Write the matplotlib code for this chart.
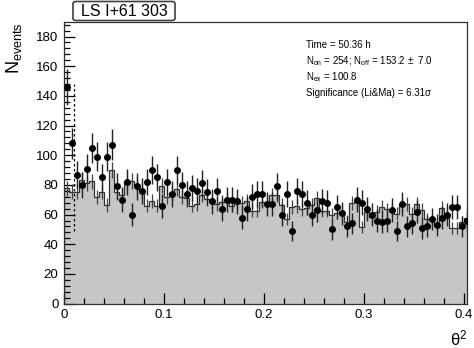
import numpy as np
import matplotlib
matplotlib.use('Agg')
import matplotlib.pyplot as plt
from matplotlib.patches import FancyBboxPatch

plt.rcParams['font.family'] = ['Liberation Sans', 'DejaVu Sans']
plt.rcParams['mathtext.fontset'] = 'custom'
plt.rcParams['mathtext.rm'] = 'Liberation Sans'
plt.rcParams['mathtext.it'] = 'Liberation Sans:italic'

# theta^2 histogram, bin width 0.005
bin_width = 0.005
n_on = [146, 108, 87, 80, 91, 105, 99, 85, 99, 107,
        79, 70, 82, 60, 79, 76, 82, 90, 85, 66,
        82, 74, 90, 80, 74, 78, 76, 81, 75, 69,
        76, 64, 70, 70, 69, 58, 64, 72, 74, 74,
        67, 67, 79, 60, 74, 49, 76, 74, 68, 60,
        63, 69, 68, 50, 65, 61, 52, 54, 70, 68,
        64, 60, 56, 55, 56, 63, 49, 67, 52, 54,
        62, 51, 52, 57, 53, 58, 60, 65, 65, 52,
        56]
n_off = [77.7, 75.5, 75.5, 83.4, 81.0, 82.3, 71.7, 75.5, 66.5, 90.1,
         75.5, 73.3, 82.7, 82.7, 80.0, 76.2, 66.0, 69.0, 66.0, 79.4,
         71.7, 74.4, 77.3, 72.1, 71.0, 66.0, 67.2, 73.3, 70.4, 69.2,
         67.0, 68.4, 70.5, 66.0, 68.1, 68.1, 69.2, 62.7, 62.7, 68.8,
         68.8, 73.3, 73.3, 66.5, 57.1, 65.0, 65.9, 63.6, 64.3, 66.5,
         71.0, 62.7, 62.7, 59.8, 61.4, 62.7, 55.3, 67.7, 68.8, 51.5,
         62.0, 58.6, 62.0, 65.0, 63.6, 63.6, 60.5, 67.2, 67.2, 60.5,
         67.2, 63.2, 56.9, 56.4, 53.7, 64.7, 60.5, 51.2, 51.2, 55.1,
         57.6]
off_alpha = 0.32  # off normalisation
theta2_cut = 0.01

edges = np.arange(len(n_on) + 1) * bin_width
centers = edges[:-1] + bin_width / 2
on = np.array(n_on)
off = np.array(n_off)

fig = plt.figure(figsize=(4.74, 3.48), dpi=100)
ax = fig.add_axes([64/474, 1 - 303.6/348, 403/474, 281.9/348])

ax.stairs(off, edges, fill=True, color='#c6c6c6', zorder=1)
ax.stairs(off, edges, color='#303030', lw=0.9, zorder=2)
ax.errorbar(centers, off, yerr=np.sqrt(off * off_alpha), fmt='none',
            ecolor='#404040', elinewidth=0.9, zorder=2)
ax.errorbar(centers, on, yerr=np.sqrt(on), fmt='o', color='black',
            ms=4, elinewidth=1.0, ecolor='#222222', capsize=0, zorder=3)
ax.plot([theta2_cut, theta2_cut], [49, 148], ls=(0, (2, 2)), color='black',
        lw=0.9, zorder=4)

ax.set_xlim(0, 0.403)
ax.set_ylim(0, 190)
ax.set_xticks(np.arange(0, 0.41, 0.1))
ax.set_xticklabels(['0', '0.1', '0.2', '0.3', '0.4'])
ax.set_xticks(np.arange(0, 0.403, 0.02), minor=True)
ax.set_yticks(np.arange(0, 181, 20))
ax.set_yticks(np.arange(0, 190, 4), minor=True)
ax.tick_params(which='both', direction='in', top=False, right=False,
               labelsize=9.5, width=0.9)
ax.tick_params(which='major', length=8, pad=4)
ax.tick_params(which='minor', length=4)
for s in ax.spines.values():
    s.set_linewidth(0.9)
    s.set_color('#303030')

ax.set_ylabel(r'N$_{\rm events}$', fontsize=13, loc='top')
ax.yaxis.set_label_coords(-0.1, 1.0)
ax.set_xlabel(r'θ$^{2}$', fontsize=12, loc='right')
ax.xaxis.set_label_coords(1.0, -0.09)

# statistics text
stats = ['Time = 50.36 h',
         r'N$_{\rm on}$ = 254; N$_{\rm off}$ = 153.2 $\pm$  7.0',
         r'N$_{\rm ex}$ = 100.8',
         'Significance (Li&Ma) = 6.31σ']
for txt, yp in zip(stats, [45, 61, 77, 93]):
    fig.text(306/474, 1 - yp/348, txt, fontsize=7.0, va='center', ha='left')

# source name box
box = FancyBboxPatch((73/474, 1 - 20.5/348), 102/474, 19/348,
                     boxstyle='round,pad=0,rounding_size=0.006',
                     transform=fig.transFigure, facecolor='white',
                     edgecolor='#404040', lw=1.2, zorder=5)
fig.patches.append(box)
fig.text(124/474, 1 - 11.5/348, 'LS I+61 303', fontsize=11.5,
         ha='center', va='center', zorder=6)

fig.savefig('out.png', dpi=100)
